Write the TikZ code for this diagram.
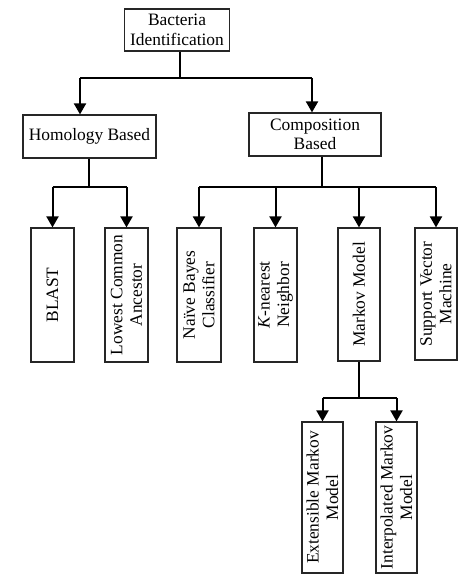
\documentclass[tikz,border=0pt]{standalone}
\usepackage{fontspec}
\setmainfont{Liberation Serif}
\usetikzlibrary{arrows.meta}
\begin{document}
\begin{tikzpicture}[x=1pt,y=1pt,
  every node/.style={font=\fontsize{17.4}{19.5}\selectfont, inner sep=0pt},
  box/.style={draw=black!85, line width=1.2pt},
  vtext/.style={rotate=90, align=center},
  conn/.style={line width=2pt, black},
  arr/.style={conn, -{Triangle[width=12pt,length=11pt]}}]
\useasboundingbox (0,0) rectangle (474,-581);
% top level
\node[box, minimum width=105pt, minimum height=42pt, align=center] (root) at (177,-30) {Bacteria\\Identification};
\node[box, minimum width=133pt, minimum height=43pt] (hom) at (89.5,-136.5) {Homology Based};
\node[box, minimum width=132pt, minimum height=43pt, align=center] (comp) at (315,-134.5) {Composition\\Based};
% leaves
\node[box, minimum width=43pt, minimum height=134pt] (blast) at (52.5,-295) {};
\node[vtext] (blastt) at (blast) {BLAST};
\node[box, minimum width=43pt, minimum height=134pt] (lca) at (126.5,-295) {};
\node[vtext] (lcat) at (lca) {Lowest Common\\Ancestor};
\node[box, minimum width=44pt, minimum height=134pt] (nb) at (199,-295) {};
\node[vtext] (nbt) at (nb) {Naïve Bayes\\Classifier};
\node[box, minimum width=43pt, minimum height=134pt] (knn) at (275.5,-295) {};
\node[vtext] (knnt) at (knn) {\textit{K}-nearest\\Neighbor};
\node[box, minimum width=42pt, minimum height=133pt] (mm) at (359,-294.5) {};
\node[vtext] (mmt) at (mm) {Markov Model};
\node[box, minimum width=42pt, minimum height=132pt] (svm) at (436,-294) {};
\node[vtext] (svmt) at (svm) {Support Vector\\Machine};
\node[box, minimum width=41pt, minimum height=151pt] (emm) at (322.5,-497.5) {};
\node[vtext] (emmt) at (emm) {Extensible Markov\\Model};
\node[box, minimum width=41pt, minimum height=151pt] (imm) at (396.5,-497.5) {};
\node[vtext] (immt) at (imm) {Interpolated Markov\\Model};
% junctions
\coordinate (j1) at (180,-78);
\coordinate (j1l) at (80,-78);
\coordinate (j1r) at (312,-78);
\coordinate (j2) at (89,-187);
\coordinate (j3) at (322,-187);
\coordinate (j4) at (359,-398);
% connectors
\draw[conn] (root.south -| j1) -- (j1);
\draw[conn] (j1l) -- (j1r);
\draw[arr] (j1l) -- (hom.north -| j1l);
\draw[arr] (j1r) -- (comp.north -| j1r);
\draw[conn] (hom.south -| j2) -- (j2);
\draw[conn] (j2 -| blast.north) -- (j2 -| lca.north);
\draw[arr] (j2 -| blast.north) -- (blast.north);
\draw[arr] (j2 -| lca.north) -- (lca.north);
\draw[conn] (comp.south -| j3) -- (j3);
\draw[conn] (j3 -| nb.north) -- (j3 -| svm.north);
\draw[arr] (j3 -| nb.north) -- (nb.north);
\draw[arr] (j3 -| knn.north) -- (knn.north);
\draw[arr] (j3 -| mm.north) -- (mm.north);
\draw[arr] (j3 -| svm.north) -- (svm.north);
\draw[conn] (mm.south) -- (j4);
\draw[conn] (j4 -| emm.north) -- (j4 -| imm.north);
\draw[arr] (j4 -| emm.north) -- (emm.north);
\draw[arr] (j4 -| imm.north) -- (imm.north);
\end{tikzpicture}
\end{document}
